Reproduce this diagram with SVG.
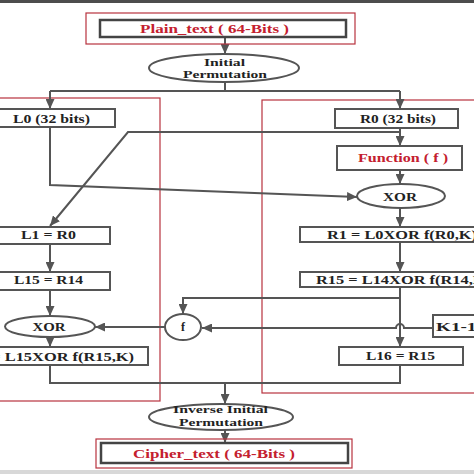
<svg xmlns="http://www.w3.org/2000/svg" width="474" height="474" viewBox="0 0 474 474">
<defs>
<marker id="ah" markerUnits="userSpaceOnUse" markerWidth="10" markerHeight="9" refX="10" refY="4.5" orient="auto">
<path d="M0,0 L10,4.5 L0,9 z" fill="#555"/>
</marker>
<style>
.box{fill:#fff;stroke:#555;stroke-width:2}
.ibox{fill:#fff;stroke:#444;stroke-width:2.5}
.red{fill:none;stroke:#b8323e;stroke-width:1.2}
.el{fill:#fff;stroke:#555;stroke-width:2}
.ln{fill:none;stroke:#555;stroke-width:2}
.t{font-family:"Liberation Serif","Times New Roman",serif;font-weight:bold;font-size:12px;fill:#222;text-anchor:middle}
.tr{fill:#c4202e}
.ts{text-anchor:start}
.s{font-size:11px}
</style>
</defs>
<rect x="0" y="0" width="474" height="474" fill="#fff"/>
<rect x="0" y="0" width="474" height="3" fill="#4d4d4d"/>
<rect x="0" y="470" width="474" height="4" fill="#d8d8d8"/>

<g id="groups">
<rect class="red" x="-2" y="98" width="162" height="303"/>
<rect class="red" x="262" y="100" width="216" height="293"/>
</g>

<g id="connectors">
<path class="ln" d="M225,37 V54" marker-end="url(#ah)"/>
<path class="ln" d="M225,82 V91 M50,91 H400"/>
<path class="ln" d="M50,91 V109" marker-end="url(#ah)"/>
<path class="ln" d="M400,91 V109" marker-end="url(#ah)"/>
<path class="ln" d="M50,127 V185 L357,197" marker-end="url(#ah)"/>
<path class="ln" d="M400,128 V146" marker-end="url(#ah)"/>
<path class="ln" d="M400,132 H128 L50,226" marker-end="url(#ah)"/>
<path class="ln" d="M400,170 V184" marker-end="url(#ah)"/>
<path class="ln" d="M400,208 V227" marker-end="url(#ah)"/>
<path class="ln" d="M50,244 V272" marker-end="url(#ah)"/>
<path class="ln" d="M400,242 V272" marker-end="url(#ah)"/>
<path class="ln" d="M50,290 V316" marker-end="url(#ah)"/>
<path class="ln" d="M400,287 V347" marker-end="url(#ah)"/>
<path class="ln" d="M400,298 H183 V314" marker-end="url(#ah)"/>
<path class="ln" d="M433,328 H404 A4,4 0 0 0 396,328 H202" marker-end="url(#ah)"/>
<path class="ln" d="M165,327 H95" marker-end="url(#ah)"/>
<path class="ln" d="M50,337 V347" marker-end="url(#ah)"/>
<path class="ln" d="M50,365 V383 H400 V365"/>
<path class="ln" d="M225,383 V404" marker-end="url(#ah)"/>
<path class="ln" d="M225,430 V443" marker-end="url(#ah)"/>
</g>

<g id="plain">
<rect class="red" x="86" y="13" width="269" height="31"/>
<rect class="ibox" x="100" y="20" width="246" height="17"/>
<text class="t tr" x="214.5" y="33" font-size="13" textLength="149" lengthAdjust="spacingAndGlyphs">Plain_text ( 64-Bits )</text>
</g>

<g id="ip">
<ellipse class="el" cx="224" cy="68" rx="75" ry="14"/>
<text class="t s" x="224.5" y="66" textLength="41" lengthAdjust="spacingAndGlyphs">Initial</text>
<text class="t s" x="225" y="77.5" textLength="84" lengthAdjust="spacingAndGlyphs">Permutation</text>
</g>

<g id="l0">
<rect class="box" x="-10" y="109" width="125" height="18"/>
<text class="t" x="51.5" y="122.5" textLength="77" lengthAdjust="spacingAndGlyphs">L0 (32 bits)</text>
</g>

<g id="r0">
<rect class="box" x="335" y="109" width="123" height="19"/>
<text class="t" x="398" y="122.5" textLength="76" lengthAdjust="spacingAndGlyphs">R0 (32 bits)</text>
</g>

<g id="func">
<rect class="box" x="337" y="146" width="125" height="24"/>
<text class="t tr" x="403" y="162" font-size="13" textLength="90" lengthAdjust="spacingAndGlyphs">Function ( f )</text>
</g>

<g id="xor1">
<ellipse class="el" cx="401" cy="196" rx="44" ry="12"/>
<text class="t" x="400" y="200.5" textLength="34" lengthAdjust="spacingAndGlyphs">XOR</text>
</g>

<g id="l1">
<rect class="box" x="-10" y="227" width="120" height="17"/>
<text class="t" x="48.5" y="239" textLength="55" lengthAdjust="spacingAndGlyphs">L1 = R0</text>
</g>

<g id="r1">
<rect class="box" x="300" y="227" width="200" height="15"/>
<text class="t ts" x="327" y="239" textLength="150" lengthAdjust="spacingAndGlyphs">R1 = L0XOR f(R0,K)</text>
</g>

<g id="l15">
<rect class="box" x="-10" y="272" width="120" height="18"/>
<text class="t" x="48.5" y="284" textLength="69" lengthAdjust="spacingAndGlyphs">L15 = R14</text>
</g>

<g id="r15">
<rect class="box" x="300" y="272" width="200" height="15"/>
<text class="t ts" x="316" y="284" textLength="175" lengthAdjust="spacingAndGlyphs">R15 = L14XOR f(R14,K)</text>
</g>

<g id="fnode">
<ellipse class="el" cx="183" cy="327" rx="18" ry="13"/>
<text class="t" x="183" y="331">f</text>
</g>

<g id="kbox">
<rect class="box" x="433" y="315" width="60" height="22"/>
<text class="t ts" x="436" y="331" textLength="50" lengthAdjust="spacingAndGlyphs">K1-16</text>
</g>

<g id="xor2">
<ellipse class="el" cx="50" cy="326.5" rx="45" ry="10.5"/>
<text class="t" x="49" y="331" textLength="33" lengthAdjust="spacingAndGlyphs">XOR</text>
</g>

<g id="r16">
<rect class="box" x="-60" y="347" width="208" height="18"/>
<text class="t ts" x="-41" y="360.5" textLength="175" lengthAdjust="spacingAndGlyphs">R16 = L15XOR f(R15,K)</text>
</g>

<g id="l16">
<rect class="box" x="339" y="347" width="124" height="18"/>
<text class="t" x="400.5" y="360" textLength="69" lengthAdjust="spacingAndGlyphs">L16 = R15</text>
</g>

<g id="iip">
<ellipse class="el" cx="221" cy="417" rx="72" ry="13"/>
<text class="t s" x="220.5" y="412.5" textLength="95" lengthAdjust="spacingAndGlyphs">Inverse Initial</text>
<text class="t s" x="221" y="425.5" textLength="84" lengthAdjust="spacingAndGlyphs">Permutation</text>
</g>

<g id="cipher">
<rect class="red" x="96" y="439" width="256" height="29"/>
<rect class="ibox" x="101" y="443" width="247" height="20"/>
<text class="t tr" x="214" y="457.5" font-size="13" textLength="162" lengthAdjust="spacingAndGlyphs">Cipher_text ( 64-Bits )</text>
</g>
</svg>
